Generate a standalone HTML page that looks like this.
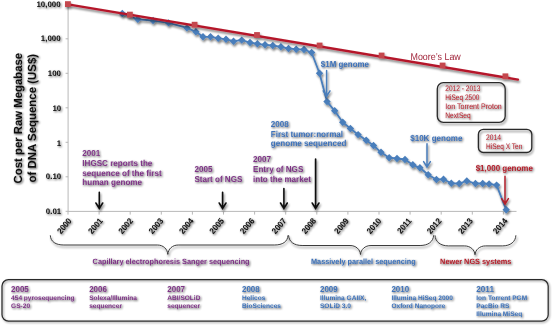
<!DOCTYPE html>
<html lang="en"><head><meta charset="utf-8"><title>Cost per Raw Megabase of DNA Sequence</title>
<style>html,body{margin:0;padding:0;background:#fff}body{width:553px;height:327px;overflow:hidden}svg{display:block;filter:blur(0.42px)}text{font-family:"Liberation Sans",Arial,sans-serif;text-rendering:geometricPrecision}.b{font-weight:bold}.p{fill:#7e3686}.bl{fill:#3f72b8}.r{fill:#b2202c}.k{fill:#111}</style></head><body>
<svg width="553" height="327" viewBox="0 0 553 327">
<defs><filter id="ts" x="-10%" y="-40%" width="125%" height="200%"><feGaussianBlur in="SourceAlpha" stdDeviation="0.9"/><feOffset dx="1.2" dy="1.2"/><feComponentTransfer><feFuncA type="linear" slope="0.7"/></feComponentTransfer><feMerge><feMergeNode/><feMergeNode in="SourceGraphic"/></feMerge></filter><filter id="ls" x="-5%" y="-5%" width="110%" height="115%" filterUnits="userSpaceOnUse" ><feGaussianBlur in="SourceAlpha" stdDeviation="1.1"/><feOffset dx="0.8" dy="1.6"/><feComponentTransfer><feFuncA type="linear" slope="0.5"/></feComponentTransfer><feMerge><feMergeNode/><feMergeNode in="SourceGraphic"/></feMerge></filter><filter id="bs" x="-5%" y="-5%" width="110%" height="115%" filterUnits="userSpaceOnUse"><feGaussianBlur in="SourceAlpha" stdDeviation="1.0"/><feOffset dx="0.5" dy="1.4"/><feComponentTransfer><feFuncA type="linear" slope="0.45"/></feComponentTransfer><feMerge><feMergeNode/><feMergeNode in="SourceGraphic"/></feMerge></filter></defs>
<rect width="553" height="327" fill="#fff"/>
<g stroke="#b0b0b0" stroke-width="0.9" fill="none">
<path d="M68.1 4 V211.4 H516.5"/>
<path d="M65.6 4.30 H68.1"/>
<path d="M65.6 38.80 H68.1"/>
<path d="M65.6 73.30 H68.1"/>
<path d="M65.6 107.80 H68.1"/>
<path d="M65.6 142.30 H68.1"/>
<path d="M65.6 176.80 H68.1"/>
<path d="M65.6 211.30 H68.1"/>
<path d="M68.00 211.4 V214.6"/>
<path d="M99.10 211.4 V214.6"/>
<path d="M130.20 211.4 V214.6"/>
<path d="M161.30 211.4 V214.6"/>
<path d="M192.40 211.4 V214.6"/>
<path d="M223.50 211.4 V214.6"/>
<path d="M254.60 211.4 V214.6"/>
<path d="M285.70 211.4 V214.6"/>
<path d="M316.80 211.4 V214.6"/>
<path d="M347.90 211.4 V214.6"/>
<path d="M379.00 211.4 V214.6"/>
<path d="M410.10 211.4 V214.6"/>
<path d="M441.20 211.4 V214.6"/>
<path d="M472.30 211.4 V214.6"/>
<path d="M503.40 211.4 V214.6"/>
</g>
<g class="b k" font-size="7.9" text-anchor="end" filter="url(#ts)">
<text x="60.60" y="7.15">10,000</text>
<text x="60.60" y="41.05">1,000</text>
<text x="61.00" y="76.35">100</text>
<text x="61.20" y="110.95">10</text>
<text x="61.10" y="146.05">1</text>
<text x="61.20" y="178.65">0.10</text>
<text x="61.20" y="213.65">0.01</text>
</g>
<g class="b k" font-size="8.5" text-anchor="end" filter="url(#ts)">
<text transform="translate(72.20 221.0) rotate(-50) scale(0.93 1)">2000</text>
<text transform="translate(103.30 221.0) rotate(-50) scale(0.93 1)">2001</text>
<text transform="translate(133.50 221.0) rotate(-50) scale(0.93 1)">2002</text>
<text transform="translate(163.90 221.0) rotate(-50) scale(0.93 1)">2003</text>
<text transform="translate(194.20 221.0) rotate(-50) scale(0.93 1)">2004</text>
<text transform="translate(224.60 221.0) rotate(-50) scale(0.93 1)">2005</text>
<text transform="translate(255.00 221.0) rotate(-50) scale(0.93 1)">2006</text>
<text transform="translate(286.90 221.0) rotate(-50) scale(0.93 1)">2007</text>
<text transform="translate(316.70 221.0) rotate(-50) scale(0.93 1)">2008</text>
<text transform="translate(349.40 221.0) rotate(-50) scale(0.93 1)">2009</text>
<text transform="translate(381.80 221.0) rotate(-50) scale(0.93 1)">2010</text>
<text transform="translate(412.00 221.0) rotate(-50) scale(0.93 1)">2011</text>
<text transform="translate(442.00 221.0) rotate(-50) scale(0.93 1)">2012</text>
<text transform="translate(473.30 221.0) rotate(-50) scale(0.93 1)">2013</text>
<text transform="translate(508.10 221.0) rotate(-50) scale(0.93 1)">2014</text>
</g>
<g class="b k" font-size="11.8" filter="url(#ts)">
<text transform="translate(22.4 183.4) rotate(-90)" textLength="130.6" lengthAdjust="spacingAndGlyphs">Cost per Raw Megabase</text>
<text transform="translate(36.0 182.5) rotate(-90)" textLength="128.6" lengthAdjust="spacingAndGlyphs">of DNA Sequence (US$)</text>
</g>
<g filter="url(#ls)">
<polyline fill="none" stroke="#4a7ebb" stroke-width="1.8" stroke-linejoin="round" points="122.3,13.5 137.8,19.3 153.1,20.5 168.6,22.9 186.9,27.9 195.9,31.8 203.0,36.8 210.5,36.8 218.2,38.2 226.0,39.3 233.5,41.2 241.7,40.1 250.0,42.5 257.4,43.8 265.0,44.8 272.8,45.5 280.9,46.8 288.5,48.5 296.2,49.2 304.0,49.5 311.6,52.5 319.5,73.3 327.0,101.6 334.7,110.8 342.7,122.2 350.4,128.5 358.1,134.6 366.2,140.3 373.5,145.5 381.0,152.3 389.2,157.7 397.0,158.5 405.0,159.5 412.8,164.8 419.9,167.8 428.2,174.8 436.4,179.5 443.5,179.3 451.3,183.3 459.2,183.5 466.8,180.9 475.4,183.5 482.7,183.5 489.1,183.9 496.6,185.1 506.2,209.8"/>
<g fill="#4a7ebb">
<path d="M122.3 9.8 l3.7 3.7 l-3.7 3.7 l-3.7 -3.7z"/>
<path d="M137.8 15.6 l3.7 3.7 l-3.7 3.7 l-3.7 -3.7z"/>
<path d="M153.1 16.8 l3.7 3.7 l-3.7 3.7 l-3.7 -3.7z"/>
<path d="M168.6 19.2 l3.7 3.7 l-3.7 3.7 l-3.7 -3.7z"/>
<path d="M186.9 24.2 l3.7 3.7 l-3.7 3.7 l-3.7 -3.7z"/>
<path d="M195.9 28.1 l3.7 3.7 l-3.7 3.7 l-3.7 -3.7z"/>
<path d="M203.0 33.1 l3.7 3.7 l-3.7 3.7 l-3.7 -3.7z"/>
<path d="M210.5 33.1 l3.7 3.7 l-3.7 3.7 l-3.7 -3.7z"/>
<path d="M218.2 34.5 l3.7 3.7 l-3.7 3.7 l-3.7 -3.7z"/>
<path d="M226.0 35.6 l3.7 3.7 l-3.7 3.7 l-3.7 -3.7z"/>
<path d="M233.5 37.5 l3.7 3.7 l-3.7 3.7 l-3.7 -3.7z"/>
<path d="M241.7 36.4 l3.7 3.7 l-3.7 3.7 l-3.7 -3.7z"/>
<path d="M250.0 38.8 l3.7 3.7 l-3.7 3.7 l-3.7 -3.7z"/>
<path d="M257.4 40.1 l3.7 3.7 l-3.7 3.7 l-3.7 -3.7z"/>
<path d="M265.0 41.1 l3.7 3.7 l-3.7 3.7 l-3.7 -3.7z"/>
<path d="M272.8 41.8 l3.7 3.7 l-3.7 3.7 l-3.7 -3.7z"/>
<path d="M280.9 43.1 l3.7 3.7 l-3.7 3.7 l-3.7 -3.7z"/>
<path d="M288.5 44.8 l3.7 3.7 l-3.7 3.7 l-3.7 -3.7z"/>
<path d="M296.2 45.5 l3.7 3.7 l-3.7 3.7 l-3.7 -3.7z"/>
<path d="M304.0 45.8 l3.7 3.7 l-3.7 3.7 l-3.7 -3.7z"/>
<path d="M311.6 48.8 l3.7 3.7 l-3.7 3.7 l-3.7 -3.7z"/>
<path d="M319.5 69.6 l3.7 3.7 l-3.7 3.7 l-3.7 -3.7z"/>
<path d="M327.0 97.9 l3.7 3.7 l-3.7 3.7 l-3.7 -3.7z"/>
<path d="M334.7 107.1 l3.7 3.7 l-3.7 3.7 l-3.7 -3.7z"/>
<path d="M342.7 118.5 l3.7 3.7 l-3.7 3.7 l-3.7 -3.7z"/>
<path d="M350.4 124.8 l3.7 3.7 l-3.7 3.7 l-3.7 -3.7z"/>
<path d="M358.1 130.9 l3.7 3.7 l-3.7 3.7 l-3.7 -3.7z"/>
<path d="M366.2 136.6 l3.7 3.7 l-3.7 3.7 l-3.7 -3.7z"/>
<path d="M373.5 141.8 l3.7 3.7 l-3.7 3.7 l-3.7 -3.7z"/>
<path d="M381.0 148.6 l3.7 3.7 l-3.7 3.7 l-3.7 -3.7z"/>
<path d="M389.2 154.0 l3.7 3.7 l-3.7 3.7 l-3.7 -3.7z"/>
<path d="M397.0 154.8 l3.7 3.7 l-3.7 3.7 l-3.7 -3.7z"/>
<path d="M405.0 155.8 l3.7 3.7 l-3.7 3.7 l-3.7 -3.7z"/>
<path d="M412.8 161.1 l3.7 3.7 l-3.7 3.7 l-3.7 -3.7z"/>
<path d="M419.9 164.1 l3.7 3.7 l-3.7 3.7 l-3.7 -3.7z"/>
<path d="M428.2 171.1 l3.7 3.7 l-3.7 3.7 l-3.7 -3.7z"/>
<path d="M436.4 175.8 l3.7 3.7 l-3.7 3.7 l-3.7 -3.7z"/>
<path d="M443.5 175.6 l3.7 3.7 l-3.7 3.7 l-3.7 -3.7z"/>
<path d="M451.3 179.6 l3.7 3.7 l-3.7 3.7 l-3.7 -3.7z"/>
<path d="M459.2 179.8 l3.7 3.7 l-3.7 3.7 l-3.7 -3.7z"/>
<path d="M466.8 177.2 l3.7 3.7 l-3.7 3.7 l-3.7 -3.7z"/>
<path d="M475.4 179.8 l3.7 3.7 l-3.7 3.7 l-3.7 -3.7z"/>
<path d="M482.7 179.8 l3.7 3.7 l-3.7 3.7 l-3.7 -3.7z"/>
<path d="M489.1 180.2 l3.7 3.7 l-3.7 3.7 l-3.7 -3.7z"/>
<path d="M496.6 181.4 l3.7 3.7 l-3.7 3.7 l-3.7 -3.7z"/>
<path d="M506.2 206.1 l3.7 3.7 l-3.7 3.7 l-3.7 -3.7z"/>
</g></g>
<g filter="url(#ls)">
<path d="M68 4.3 L518 79.6" stroke="#b5182b" stroke-width="2.3" fill="none" stroke-linecap="round"/>
<g fill="#c4474d">
<rect x="65.0" y="1.2" width="5.8" height="5.8"/>
<rect x="127.0" y="11.7" width="5.8" height="5.8"/>
<rect x="191.7" y="21.8" width="5.8" height="5.8"/>
<rect x="254.1" y="32.1" width="5.8" height="5.8"/>
<rect x="316.7" y="42.6" width="5.8" height="5.8"/>
<rect x="378.7" y="52.6" width="5.8" height="5.8"/>
<rect x="439.7" y="62.6" width="5.8" height="5.8"/>
<rect x="502.5" y="73.4" width="5.8" height="5.8"/>
</g></g>
<g filter="url(#ls)">
<path d="M99.3 192.2 V208.4 M95.9 203.0 L99.3 208.4 L102.7 203.0" stroke="#111" stroke-width="1.6" fill="none" stroke-linecap="round" stroke-linejoin="miter"/>
<path d="M222.6 192.2 V208.4 M219.2 203.0 L222.6 208.4 L226.0 203.0" stroke="#111" stroke-width="1.6" fill="none" stroke-linecap="round" stroke-linejoin="miter"/>
<path d="M283.9 188.5 V208.4 M280.5 203.0 L283.9 208.4 L287.3 203.0" stroke="#111" stroke-width="1.6" fill="none" stroke-linecap="round" stroke-linejoin="miter"/>
<path d="M315.6 159.0 V208.4 M312.2 203.0 L315.6 208.4 L319.0 203.0" stroke="#111" stroke-width="1.6" fill="none" stroke-linecap="round" stroke-linejoin="miter"/>
<path d="M326.6 70.4 V96.3 M323.2 90.9 L326.6 96.3 L330.0 90.9" stroke="#4a7ebb" stroke-width="1.5" fill="none" stroke-linecap="round" stroke-linejoin="miter"/>
<path d="M427.0 143.8 V167.0 M423.6 161.6 L427.0 167.0 L430.4 161.6" stroke="#4a7ebb" stroke-width="1.5" fill="none" stroke-linecap="round" stroke-linejoin="miter"/>
<path d="M505.0 176.2 V204.0 M501.6 198.6 L505.0 204.0 L508.4 198.6" stroke="#b2202c" stroke-width="1.5" fill="none" stroke-linecap="round" stroke-linejoin="miter"/>
</g>
<g filter="url(#ts)">
<text transform="translate(82.3 155.8) scale(0.940 1)" class="b p" font-size="8.60">2001</text>
<text transform="translate(82.3 165.8) scale(0.940 1)" class="b p" font-size="8.60">IHGSC reports the</text>
<text x="82.3" y="175.6" class="b p" font-size="8.60" textLength="79.3" lengthAdjust="spacingAndGlyphs">sequence of the first</text>
<text transform="translate(82.3 185.1) scale(0.940 1)" class="b p" font-size="8.60">human genome</text>
<text transform="translate(194.4 171.8) scale(0.940 1)" class="b p" font-size="8.60">2005</text>
<text x="194.4" y="181.6" class="b p" font-size="8.60" textLength="47.9" lengthAdjust="spacingAndGlyphs">Start of NGS</text>
<text transform="translate(253.0 161.9) scale(0.940 1)" class="b p" font-size="8.60">2007</text>
<text transform="translate(253.0 171.8) scale(0.940 1)" class="b p" font-size="8.60">Entry of NGS</text>
<text x="253.0" y="181.6" class="b p" font-size="8.60" textLength="57.9" lengthAdjust="spacingAndGlyphs">into the market</text>
<text transform="translate(270.8 126.8) scale(0.940 1)" class="b bl" font-size="8.60">2008</text>
<text transform="translate(270.8 136.8) scale(0.940 1)" class="b bl" font-size="8.60">First tumor:normal</text>
<text x="270.8" y="146.2" class="b bl" font-size="8.60" textLength="75.6" lengthAdjust="spacingAndGlyphs">genome sequenced</text>
<text x="320.8" y="67.2" class="b bl" font-size="8.60" textLength="48.2" lengthAdjust="spacingAndGlyphs">$1M genome</text>
<text x="410.2" y="141.2" class="b bl" font-size="8.60" textLength="52.3" lengthAdjust="spacingAndGlyphs">$10K genome</text>
<text x="475.7" y="171.1" class="b r" font-size="8.60" textLength="57.2" lengthAdjust="spacingAndGlyphs">$1,000 genome</text>
<text x="92.6" y="263.8" class="b p" font-size="7.70" textLength="157.0" lengthAdjust="spacingAndGlyphs">Capillary electrophoresis Sanger sequencing</text>
<text x="311.0" y="263.6" class="b bl" font-size="7.70" textLength="104.8" lengthAdjust="spacingAndGlyphs">Massively parallel sequencing</text>
<text x="440.1" y="263.5" class="b r" font-size="7.70" textLength="71.2" lengthAdjust="spacingAndGlyphs">Newer NGS systems</text>
</g>
<text x="410.5" y="59.9" font-size="10" fill="#a0243a" textLength="50.3" lengthAdjust="spacingAndGlyphs">Moore’s Law</text>
<g fill="none" stroke="#2b2b2b" stroke-width="1.3">
<rect x="437.3" y="82.7" width="67.9" height="39.6" rx="6" ry="6" filter="url(#ls)"/>
<rect x="478.4" y="129.3" width="53.4" height="23.2" rx="5" ry="5" filter="url(#ls)"/>
<rect x="2.0" y="279.6" width="546.2" height="41.6" rx="6.5" ry="6.5" stroke-width="1.25" filter="url(#bs)"/>
</g>
<g filter="url(#ts)">
<text x="445.3" y="91.1" class="r" font-size="8.00" textLength="35.1" lengthAdjust="spacingAndGlyphs">2012 - 2013</text>
<text x="445.3" y="100.2" class="r" font-size="8.00" textLength="34.1" lengthAdjust="spacingAndGlyphs">HiSeq 2500</text>
<text x="445.3" y="109.1" class="r" font-size="8.00" textLength="56.5" lengthAdjust="spacingAndGlyphs">Ion Torrent Proton</text>
<text x="445.3" y="118.0" class="r" font-size="8.00" textLength="25.4" lengthAdjust="spacingAndGlyphs">NextSeq</text>
<text x="486.0" y="139.7" class="r" font-size="8.00" textLength="15.0" lengthAdjust="spacingAndGlyphs">2014</text>
<text x="486.0" y="148.6" class="r" font-size="8.00" textLength="36.3" lengthAdjust="spacingAndGlyphs">HiSeq X Ten</text>
<text x="11.1" y="292.0" class="b p" font-size="8.60" textLength="17.7" lengthAdjust="spacingAndGlyphs">2005</text>
<text transform="translate(11.1 299.6) scale(1.000 1)" class="b p" font-size="6.55">454 pyrosequencing</text>
<text transform="translate(11.1 307.7) scale(1.000 1)" class="b p" font-size="6.55">GS-20</text>
<text x="89.2" y="292.0" class="b p" font-size="8.60" textLength="17.7" lengthAdjust="spacingAndGlyphs">2006</text>
<text transform="translate(89.2 299.6) scale(1.000 1)" class="b p" font-size="6.55">Solexa/Illumina</text>
<text transform="translate(89.2 307.7) scale(1.000 1)" class="b p" font-size="6.55">sequencer</text>
<text x="167.3" y="292.0" class="b p" font-size="8.60" textLength="17.7" lengthAdjust="spacingAndGlyphs">2007</text>
<text transform="translate(167.3 299.6) scale(1.000 1)" class="b p" font-size="6.55">ABI/SOLiD</text>
<text transform="translate(167.3 307.7) scale(1.000 1)" class="b p" font-size="6.55">sequencer</text>
<text x="242.0" y="292.0" class="b bl" font-size="8.60" textLength="17.7" lengthAdjust="spacingAndGlyphs">2008</text>
<text transform="translate(242.0 299.6) scale(1.000 1)" class="b bl" font-size="6.55">Helicos</text>
<text transform="translate(242.0 307.7) scale(1.000 1)" class="b bl" font-size="6.55">BioSciences</text>
<text x="320.0" y="292.0" class="b bl" font-size="8.60" textLength="17.7" lengthAdjust="spacingAndGlyphs">2009</text>
<text transform="translate(320.0 299.6) scale(1.000 1)" class="b bl" font-size="6.55">Illumina GAIIX,</text>
<text transform="translate(320.0 307.7) scale(1.000 1)" class="b bl" font-size="6.55">SOLiD 3.0</text>
<text x="391.4" y="292.0" class="b bl" font-size="8.60" textLength="17.7" lengthAdjust="spacingAndGlyphs">2010</text>
<text transform="translate(391.4 299.6) scale(1.000 1)" class="b bl" font-size="6.55">Illumina HiSeq 2000</text>
<text transform="translate(391.4 307.7) scale(1.000 1)" class="b bl" font-size="6.55">Oxford Nanopore</text>
<text x="476.3" y="292.0" class="b bl" font-size="8.60" textLength="17.7" lengthAdjust="spacingAndGlyphs">2011</text>
<text transform="translate(476.3 299.6) scale(1.000 1)" class="b bl" font-size="6.55">Ion Torrent PGM</text>
<text transform="translate(476.3 307.7) scale(1.000 1)" class="b bl" font-size="6.55">PacBio RS</text>
<text transform="translate(476.3 315.8) scale(1.000 1)" class="b bl" font-size="6.55">Illumina MiSeq</text>
</g>
<g filter="url(#ls)" fill="none" stroke="#333" stroke-width="0.95">
<path d="M50.3 235.3 C50.6 241.8 55.8 245.0 63.8 245.0 H157.3 C163.3 245.0 167.4 249.0 167.8 254.4 C168.2 249.0 172.3 245.0 178.3 245.0 H274.5 C282.5 245.0 287.7 241.8 288.0 235.3"/>
<path d="M288.6 235.3 C288.9 241.8 294.1 245.5 302.1 245.5 H350.0 C356.0 245.5 360.1 249.5 360.5 254.5 C360.9 249.5 365.0 245.5 371.0 245.5 H420.1 C428.1 245.5 433.3 241.8 433.6 235.3"/>
<path d="M435.0 235.3 C435.3 241.8 440.5 245.9 448.5 245.9 H464.5 C470.5 245.9 474.6 249.9 475.0 254.7 C475.4 249.9 479.5 245.9 485.5 245.9 H502.4 C510.4 245.9 515.6 241.8 515.9 235.3"/>
</g>
</svg></body></html>
